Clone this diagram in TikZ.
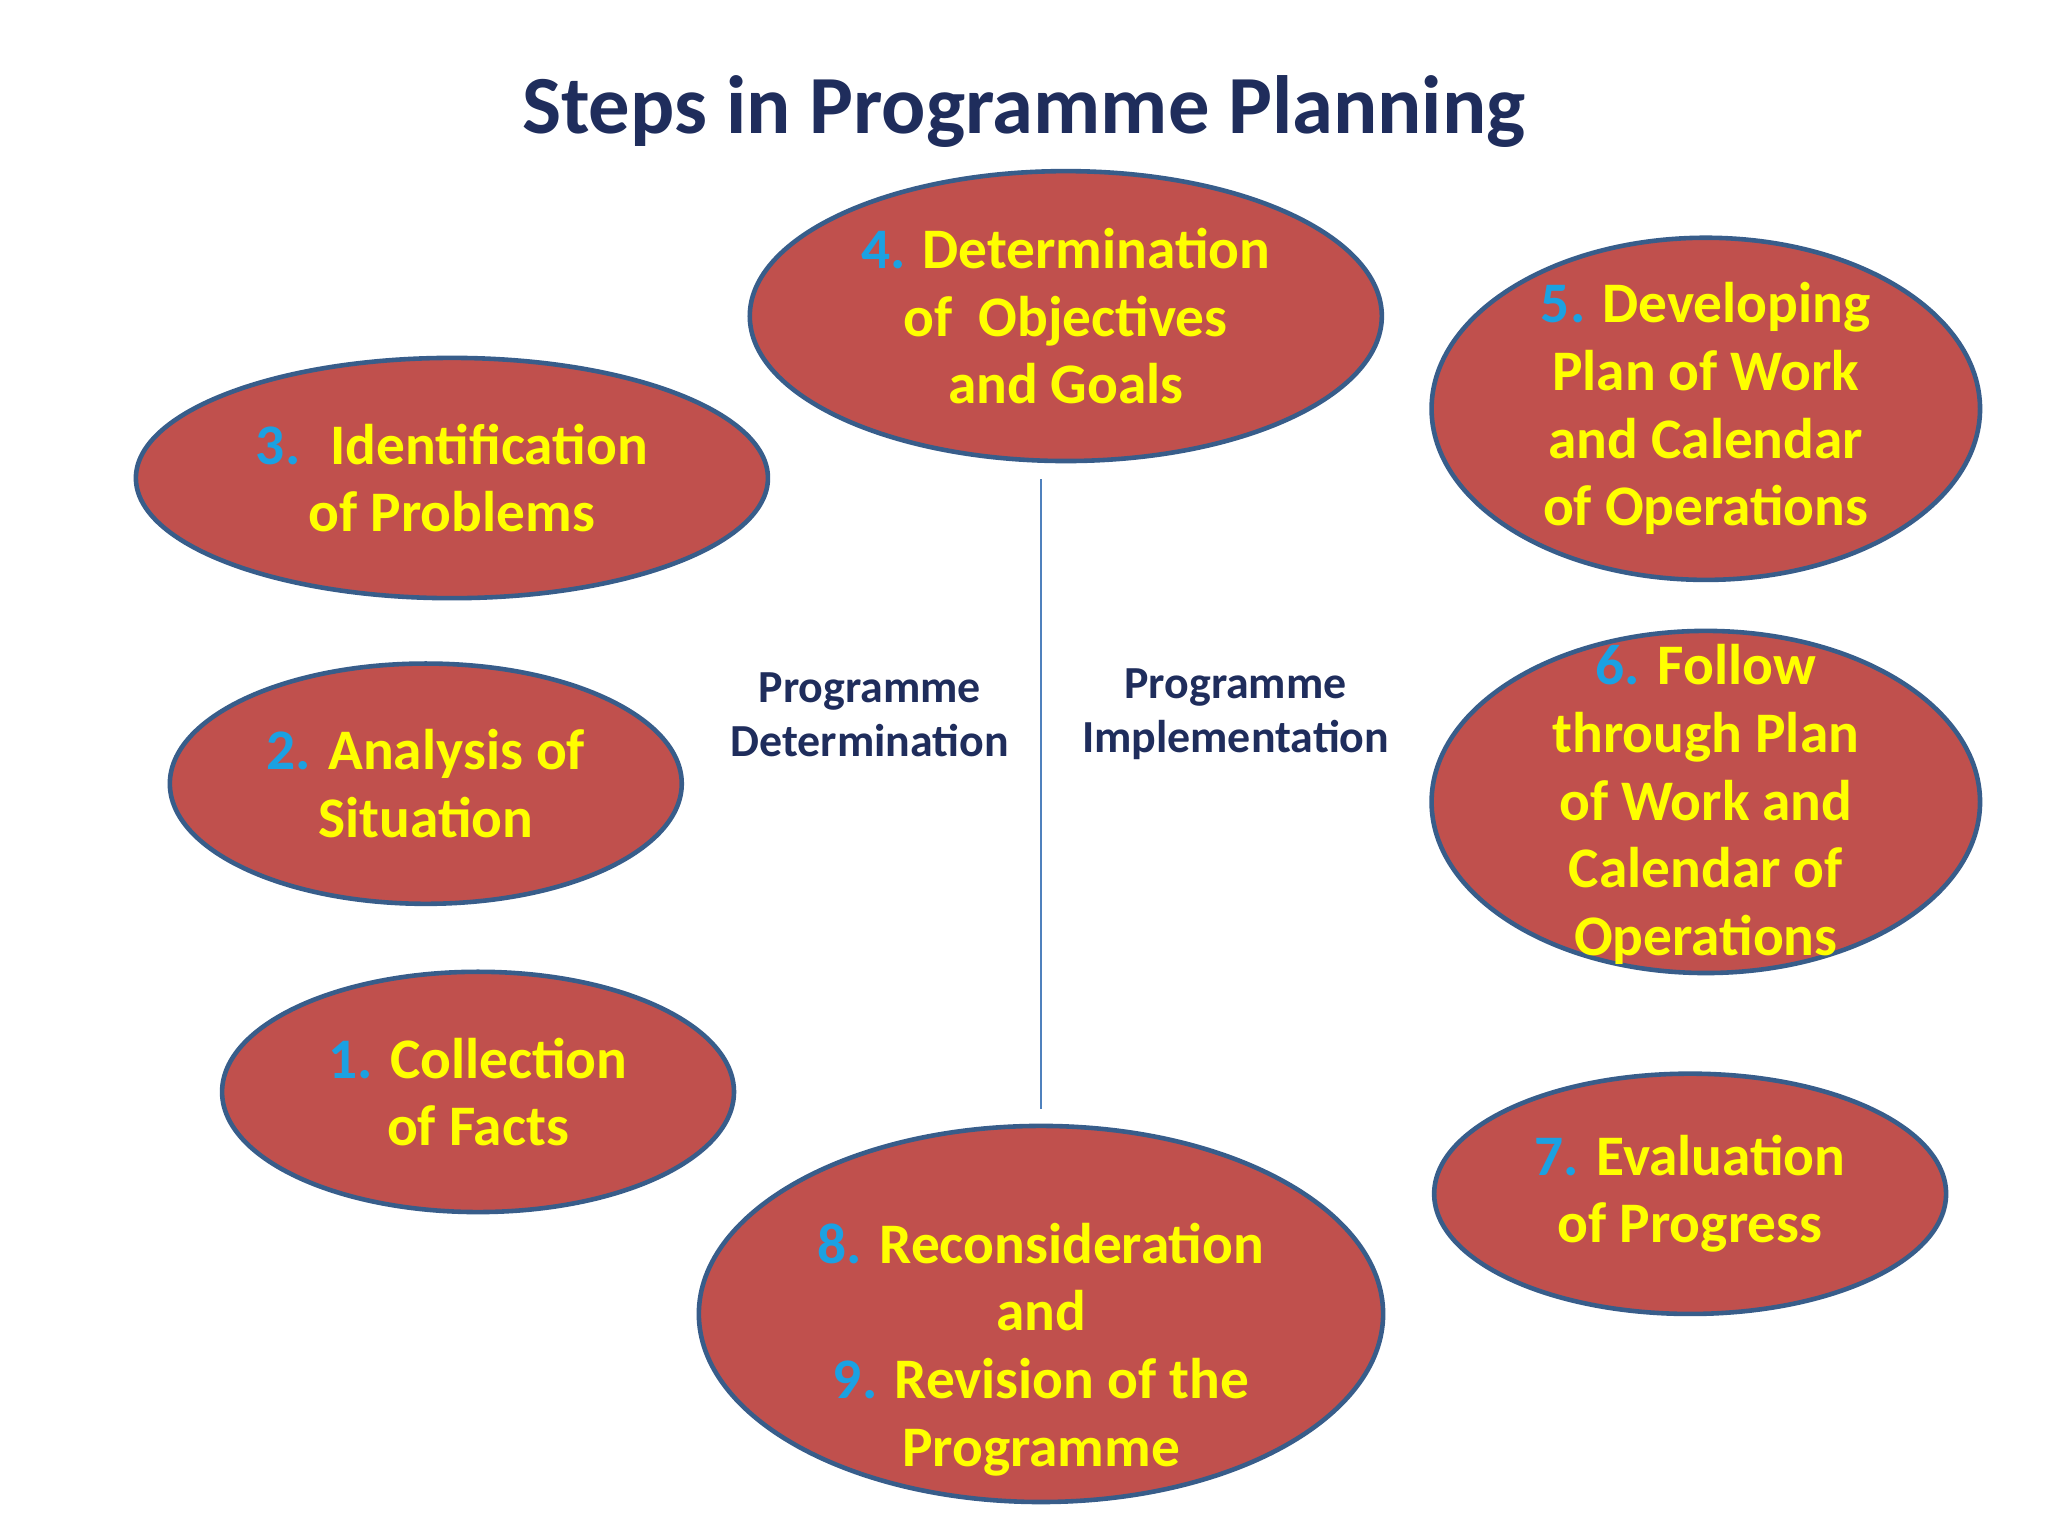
\documentclass[tikz,border=0pt]{standalone}
\usepackage{fontspec}
\setmainfont{Carlito}
\usetikzlibrary{shapes.geometric}
\definecolor{ellfill}{HTML}{C0504D}
\definecolor{ellline}{HTML}{385D8A}
\definecolor{numblue}{HTML}{1BA1E2}
\definecolor{navy}{HTML}{1F2D5C}
\definecolor{txtyel}{HTML}{FFFF00}
\definecolor{vline}{HTML}{4F81BD}
\newcommand{\nm}[1]{{\color{numblue}#1}}
\tikzset{
  stepell/.style={ellipse, draw=ellline, line width=2pt, fill=ellfill, inner sep=0pt},
  steptxt/.style={text=txtyel, font=\bfseries\fontsize{25}{29.5}\selectfont, align=center},
  sidelab/.style={text=navy, font=\bfseries\fontsize{20}{23.5}\selectfont, align=center}
}
\begin{document}
\begin{tikzpicture}[x=0.02cm,y=-0.02cm]
\useasboundingbox[fill=white] (0,0) rectangle (1568,1176);
\node[text=navy,font=\bfseries\fontsize{36}{40}\selectfont] (title) at (784,85) {Steps in Programme Planning};
\node[stepell, minimum width=9.68cm, minimum height=4.44cm] (s4) at (816,242) {};
\node[steptxt] (t4) at (s4.center) {\nm{4.} Determination\\of~ Objectives\\and Goals};
\node[stepell, minimum width=8.4cm, minimum height=5.24cm] (s5) at (1306,313) {};
\node[steptxt] (t5) at (s5.center) {\nm{5.} Developing\\Plan of Work\\and Calendar\\of Operations};
\node[stepell, minimum width=9.68cm, minimum height=3.68cm] (s3) at (346,366) {};
\node[steptxt] (t3) at (s3.center) {\nm{3.}~ Identification\\of Problems};
\node[stepell, minimum width=7.84cm, minimum height=3.68cm] (s2) at (326,600) {};
\node[steptxt] (t2) at (s2.center) {\nm{2.} Analysis of\\Situation};
\node[stepell, minimum width=8.4cm, minimum height=5.24cm] (s6) at (1306,614) {};
\node[steptxt] (t6) at (1306,616) {\nm{6.} Follow\\through Plan\\of Work and\\Calendar of\\Operations};
\node[stepell, minimum width=7.84cm, minimum height=3.68cm] (s1) at (366,836) {};
\node[steptxt] (t1) at (s1.center) {\nm{1.} Collection\\of Facts};
\node[stepell, minimum width=7.84cm, minimum height=3.68cm] (s7) at (1294,914) {};
\node[steptxt] (t7) at (s7.center) {\nm{7.} Evaluation\\of Progress};
\node[stepell, minimum width=10.48cm, minimum height=5.76cm] (s8) at (797,1006) {};
\node[steptxt] (t8) at (797,1033) {\nm{8.} Reconsideration\\and\\\nm{9.} Revision of the\\Programme};
\coordinate (ltop) at (797,367);
\coordinate (lbot) at (797,849);
\draw[color=vline, line width=1.2pt] (ltop) -- (lbot);
\node[sidelab] (pd) at (666,547) {Programme\\Determination};
\node[sidelab] (pi) at (946,547) {Programme\\Implementation};
\end{tikzpicture}
\end{document}
